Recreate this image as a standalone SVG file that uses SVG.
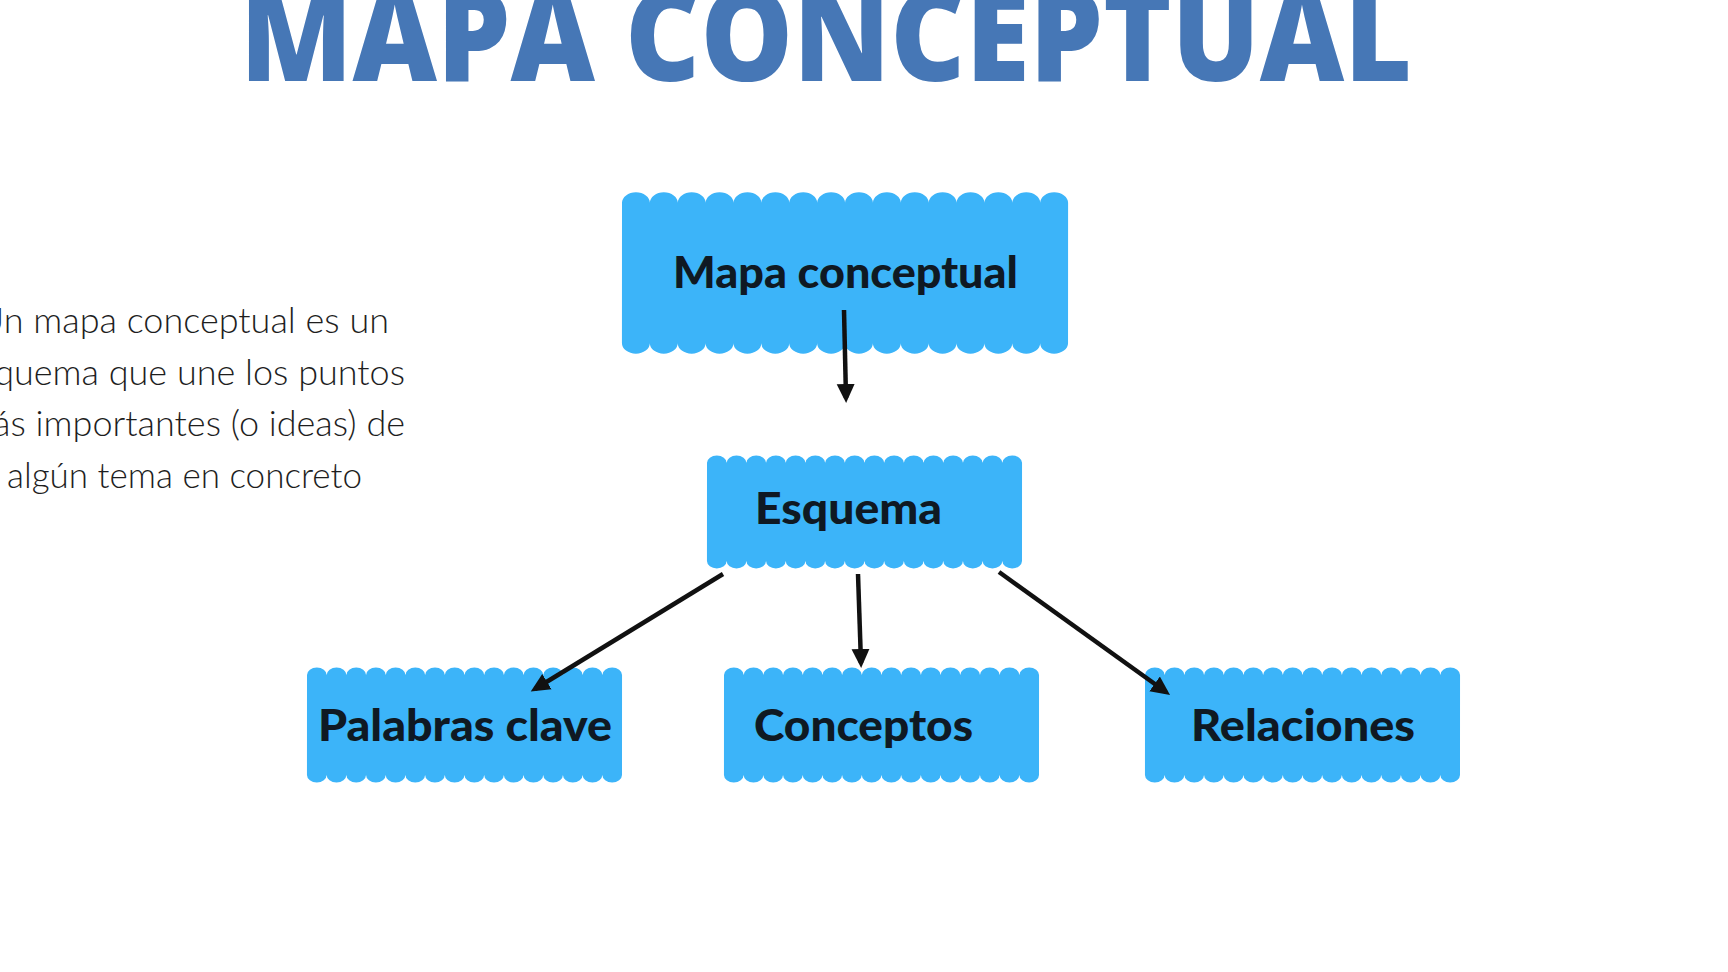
<svg xmlns="http://www.w3.org/2000/svg" xmlns:xlink="http://www.w3.org/1999/xlink" width="1728" height="972" viewBox="0 0 1728 972">
  <style>
    .bg { fill: #ffffff; }
    .title { font-family: "Open Sans", "Liberation Sans", sans-serif; font-weight: 800; font-size: 128px; fill: #4677b6; }
    .box { fill: #3cb4f9; }
    .label { font-family: "Lato", "Open Sans", "Liberation Sans", sans-serif; font-weight: 900; font-size: 43px; fill: #0f1923; }
    .para { font-family: "Lato", "Open Sans", "Liberation Sans", sans-serif; font-weight: 300; font-size: 36px; fill: #1e1e1e; }
    .conn { stroke: #111111; stroke-width: 4.5; fill: none; marker-end: url(#arrow); }
  </style>
  <defs>
    <path id="scallop" d="M0,7 a9.84,7.5 0 0 1 19.69,0 a9.84,7.5 0 0 1 19.69,0 a9.84,7.5 0 0 1 19.69,0 a9.84,7.5 0 0 1 19.69,0 a9.84,7.5 0 0 1 19.69,0 a9.84,7.5 0 0 1 19.69,0 a9.84,7.5 0 0 1 19.69,0 a9.84,7.5 0 0 1 19.69,0 a9.84,7.5 0 0 1 19.69,0 a9.84,7.5 0 0 1 19.69,0 a9.84,7.5 0 0 1 19.69,0 a9.84,7.5 0 0 1 19.69,0 a9.84,7.5 0 0 1 19.69,0 a9.84,7.5 0 0 1 19.69,0 a9.84,7.5 0 0 1 19.69,0 a9.84,7.5 0 0 1 19.69,0 L315,107 a9.84,7.5 0 0 1 -19.69,0 a9.84,7.5 0 0 1 -19.69,0 a9.84,7.5 0 0 1 -19.69,0 a9.84,7.5 0 0 1 -19.69,0 a9.84,7.5 0 0 1 -19.69,0 a9.84,7.5 0 0 1 -19.69,0 a9.84,7.5 0 0 1 -19.69,0 a9.84,7.5 0 0 1 -19.69,0 a9.84,7.5 0 0 1 -19.69,0 a9.84,7.5 0 0 1 -19.69,0 a9.84,7.5 0 0 1 -19.69,0 a9.84,7.5 0 0 1 -19.69,0 a9.84,7.5 0 0 1 -19.69,0 a9.84,7.5 0 0 1 -19.69,0 a9.84,7.5 0 0 1 -19.69,0 a9.84,7.5 0 0 1 -19.69,0 Z"/>
    <marker id="arrow" markerUnits="userSpaceOnUse" markerWidth="20" markerHeight="20" refX="14" refY="9" orient="auto" viewBox="0 0 20 18">
      <path d="M0,0 L19,9 L0,18 Z" fill="#111111"/>
    </marker>
  </defs>
  <rect class="bg" x="0" y="0" width="1728" height="972"/>

  <text class="title" x="240" y="81" textLength="1172" lengthAdjust="spacingAndGlyphs">MAPA CONCEPTUAL</text>

  <g id="description">
    <text class="para" x="389" y="333" text-anchor="end">Un mapa conceptual es un</text>
    <text class="para" x="405" y="385" text-anchor="end">esquema que une los puntos</text>
    <text class="para" x="405" y="436" text-anchor="end">más importantes (o ideas) de</text>
    <text class="para" x="7" y="488" textLength="355" lengthAdjust="spacingAndGlyphs">algún tema en concreto</text>
  </g>

  <g id="node-mapa">
    <use xlink:href="#scallop" class="box" transform="translate(622,193) scale(1.416,1.4035)"/>
    <text class="label" x="673" y="288" textLength="345" lengthAdjust="spacingAndGlyphs">Mapa conceptual</text>
  </g>
  <g id="node-esquema">
    <use xlink:href="#scallop" class="box" transform="translate(707,456) scale(1,0.982)"/>
    <text class="label" x="755" y="524" textLength="187" lengthAdjust="spacingAndGlyphs">Esquema</text>
  </g>
  <g id="node-palabras">
    <use xlink:href="#scallop" class="box" transform="translate(307,668)"/>
    <text class="label" x="318" y="741" textLength="294" lengthAdjust="spacingAndGlyphs">Palabras clave</text>
  </g>
  <g id="node-conceptos">
    <use xlink:href="#scallop" class="box" transform="translate(724,668)"/>
    <text class="label" x="754" y="741" textLength="219" lengthAdjust="spacingAndGlyphs">Conceptos</text>
  </g>
  <g id="node-relaciones">
    <use xlink:href="#scallop" class="box" transform="translate(1145,668)"/>
    <text class="label" x="1191" y="741" textLength="224" lengthAdjust="spacingAndGlyphs">Relaciones</text>
  </g>

  <g id="connectors">
    <line class="conn" x1="844" y1="310" x2="846" y2="398"/>
    <line class="conn" x1="723" y1="574" x2="535" y2="689"/>
    <line class="conn" x1="858" y1="574" x2="861" y2="663"/>
    <line class="conn" x1="999" y1="572" x2="1166" y2="692"/>
  </g>
</svg>
